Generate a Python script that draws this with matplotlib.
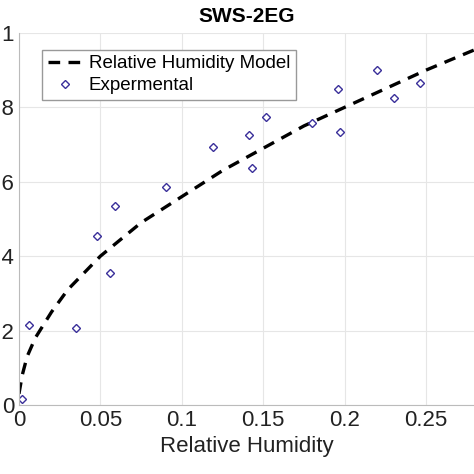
import matplotlib
matplotlib.use("Agg")
import matplotlib.pyplot as plt
plt.rcParams['font.family'] = ['Liberation Sans', 'DejaVu Sans']

exp_x = [0.002, 0.006, 0.035, 0.048, 0.056, 0.059, 0.090, 0.119, 0.141, 0.143, 0.152, 0.180, 0.196, 0.197, 0.220, 0.230, 0.246]
exp_y = [0.016, 0.215, 0.206, 0.453, 0.354, 0.535, 0.586, 0.692, 0.726, 0.636, 0.774, 0.758, 0.849, 0.733, 0.899, 0.825, 0.865]
model_x = [0.0, 0.002, 0.005, 0.01, 0.02, 0.03, 0.05, 0.075, 0.1, 0.125, 0.15, 0.175, 0.2, 0.225, 0.25, 0.28]
model_y = [0.03, 0.08, 0.13, 0.18, 0.25, 0.31, 0.40, 0.49, 0.56, 0.63, 0.69, 0.75, 0.80, 0.85, 0.90, 0.955]

fig = plt.figure(figsize=(4.74, 4.74), dpi=100)
ax = fig.add_axes([0.04, 0.1456, 0.962, 0.785])
ax.plot(model_x, model_y, '--', color='black', lw=2.4, dashes=(3.5, 2.5), label='Relative Humidity Model')
ax.plot(exp_x, exp_y, 'D', mfc='none', mec='#3a2f9a', ms=4.2, mew=1, label='Expermental')
ax.set_xlim(0, 0.28)
ax.set_ylim(0, 1)
ax.set_xticks([0, 0.05, 0.1, 0.15, 0.2, 0.25])
ax.set_xticklabels(['0', '0.05', '0.1', '0.15', '0.2', '0.25'])
ax.set_yticks([0, 0.2, 0.4, 0.6, 0.8, 1])
ax.set_yticklabels(['0', '0.2', '0.4', '0.6', '0.8', '1'])
ax.tick_params(labelsize=16, length=0, colors='#222222')
ax.grid(True, color='#e6e6e6', lw=0.8)
for s in ['top', 'right']:
    ax.spines[s].set_visible(False)
for s in ['left', 'bottom']:
    ax.spines[s].set_color('#bbbbbb')
ax.set_xlabel('Relative Humidity', fontsize=16, color='#222222')
ax.set_title('SWS-2EG', fontsize=15, fontweight='bold', pad=8)
leg = ax.legend(loc='upper left', fontsize=13.5, fancybox=False, framealpha=1,
                edgecolor='#999999', handlelength=1.8, borderpad=0.3,
                bbox_to_anchor=(0.03, 0.98), labelspacing=0.25, handletextpad=0.4)
fig.savefig('out.png', dpi=100)
